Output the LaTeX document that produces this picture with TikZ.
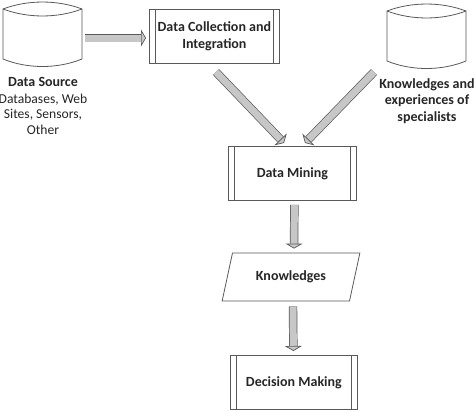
\documentclass[tikz,border=0pt]{standalone}
\usepackage{fontspec}
\setmainfont{Carlito}
\usetikzlibrary{arrows.meta, shapes.geometric}
\definecolor{edge}{gray}{0.35}
\definecolor{shaft}{gray}{0.78}
\tikzset{
	label/.style={font=\fontsize{14}{16.5}\selectfont\bfseries, align=center, text=black!85},
	plain/.style={font=\fontsize{13.6}{15.5}\selectfont, align=center, text=black!85},
	process/.style={draw=edge, line width=0.8pt, minimum height=54pt, inner sep=0pt},
	block/.style={draw=edge, line width=0.7pt, double=shaft, double distance=7pt,
		-{Triangle[fill=shaft, length=5pt, width=17pt, line width=0.7pt]}},
	store/.pic={
		\draw[draw=edge, line width=0.8pt]
			(-39.5,-7) .. controls (-15,-16.3) and (15,-16.3) .. (39.5,-7)
			-- (39.5,43) .. controls (15,53) and (-15,53) .. (-39.5,43) -- cycle;
		\draw[draw=edge, line width=0.8pt]
			(-39.5,-7) .. controls (-15,2.3) and (15,2.3) .. (39.5,-7);
	}
}
\begin{document}
\begin{tikzpicture}[x=1pt, y=-1pt]
	\useasboundingbox (0, 0) rectangle (474, 410);
	\pic at (42.5, 16) {store};
	\pic at (426.5, 18) {store};
	\node[process, minimum width=130pt, anchor=north west, label] (collection) at (149, 9) {Data Collection and\\Integration};
	\node[process, minimum width=128pt, anchor=north west, label] (mining) at (228, 146) {Data Mining};
	\node[process, minimum width=127pt, anchor=north west, label] (decision) at (230, 355) {Decision Making};
	\node[draw=edge, line width=0.8pt, trapezium, trapezium left angle=63, trapezium right angle=117,
		minimum height=48pt, minimum width=138pt, inner sep=0pt, trapezium stretches=true, label] (knowledge) at (291, 277) {Knowledges};
	\foreach \n in {collection, mining, decision} {
		\draw[draw=edge, line width=0.8pt] ([xshift=6pt]\n.north west) -- ([xshift=6pt]\n.south west);
		\draw[draw=edge, line width=0.8pt] ([xshift=-6pt]\n.north east) -- ([xshift=-6pt]\n.south east);
	}
	\node[label] (source) at (43, 82) {Data Source};
	\node[plain] (sourcetext) at (43, 114) {Databases, Web\\Sites, Sensors,\\Other};
	\node[label] (specialists) at (427, 101) {Knowledges and\\experiences of\\specialists};
	\coordinate (a1) at (85, 38);
	\coordinate (a2) at (216, 72);
	\coordinate (a3) at (374, 72);
	\coordinate (m1) at (284, 143);
	\coordinate (m2) at (305, 143);
	\draw[block] (a1) -- ([xshift=-3pt]collection.west |- a1);
	\draw[block] (a2) -- (m1);
	\draw[block] (a3) -- (m2);
	\draw[block] ([xshift=2pt, yshift=-4pt]mining.south) -- ([xshift=3pt, yshift=4pt]knowledge.north);
	\draw[block] ([xshift=2pt, yshift=-5pt]knowledge.south) -- ([xshift=-0.5pt, yshift=4pt]decision.north);
\end{tikzpicture}
\end{document}
